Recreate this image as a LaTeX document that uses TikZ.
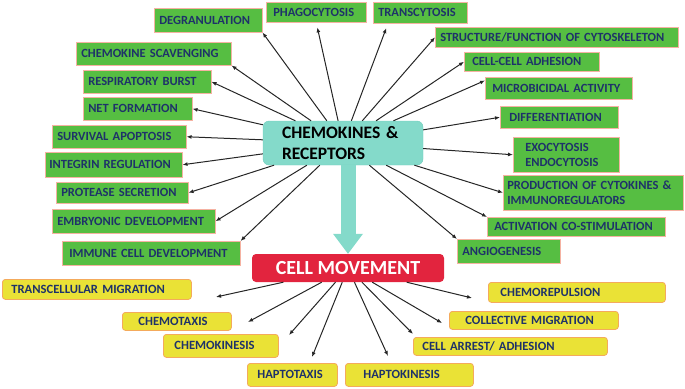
\documentclass[tikz,border=0pt]{standalone}
\usepackage{fontspec}
\setmainfont{Carlito}
\usetikzlibrary{arrows.meta, positioning}
\definecolor{gfill}{RGB}{86,190,66}
\definecolor{gline}{RGB}{245,178,162}
\definecolor{navy}{RGB}{30,50,105}
\definecolor{yfill}{RGB}{234,226,54}
\definecolor{yline}{RGB}{244,170,92}
\definecolor{ckfill}{RGB}{132,218,202}
\definecolor{ckline}{RGB}{112,204,188}
\definecolor{cmfill}{RGB}{226,36,62}
\tikzset{
  gbox/.style={rectangle,draw=gline,line width=0.5pt,fill=gfill,text=navy,font=\bfseries\fontsize{12.5}{14.5}\selectfont,align=left,anchor=north west,inner xsep=5pt,inner ysep=1pt,minimum height=22pt},
  ybox/.style={rectangle,rounded corners=3pt,draw=yline,line width=0.8pt,fill=yfill,text=navy,font=\bfseries\fontsize{12.6}{14.5}\selectfont,align=left,anchor=north west,inner xsep=9pt,inner ysep=1pt,minimum height=20pt},
  ckbox/.style={rectangle,rounded corners=6pt,draw=ckline,fill=ckfill,font=\bfseries\fontsize{17.5}{21}\selectfont,align=left,text width=122pt,inner xsep=19pt,minimum height=44pt},
  cmbox/.style={rectangle,rounded corners=4pt,fill=cmfill,text=white,font=\bfseries\fontsize{20}{22}\selectfont,minimum width=192pt,minimum height=28pt},
  line/.style={-{Latex[length=5pt,width=4pt]},line width=1pt,black!85},
  bigarrow/.style={-{Triangle[width=30pt,length=20pt,line width=0pt]},line width=15pt,ckfill}
}
\begin{document}
\begin{tikzpicture}[x=1pt,y=-1pt]
\useasboundingbox (0,0) rectangle (685,388);
% centre
\node[ckbox] (ck) at (343,143) {CHEMOKINES \&\\RECEPTORS};
\node[cmbox] (cm) at (348,268) {CELL MOVEMENT};
\draw[bigarrow] (ck.south -| cm.north) -- (cm.north);
% green boxes, left side
\node[gbox, text width=98pt, minimum height=24pt] (degr) at (154,8) {DEGRANULATION};
\node[gbox, text width=145pt, minimum height=23pt] (scav) at (76,42) {CHEMOKINE SCAVENGING};
\node[gbox, text width=118pt, minimum height=23pt] (resp) at (83,70) {RESPIRATORY BURST};
\node[gbox, text width=99pt, minimum height=23pt] (netf) at (83,97) {NET FORMATION};
\node[gbox, text width=124pt, minimum height=23pt] (surv) at (52,125) {SURVIVAL APOPTOSIS};
\node[gbox, text width=129pt, inner xsep=4pt, minimum height=25pt] (integ) at (45,152) {INTEGRIN REGULATION};
\node[gbox, text width=122pt, minimum height=21pt] (prot) at (56,182) {PROTEASE SECRETION};
\node[gbox, text width=153pt, minimum height=24pt] (embr) at (52,209) {EMBRYONIC DEVELOPMENT};
\node[gbox, text width=164pt, inner xsep=7pt, minimum height=24pt] (immune) at (62,241) {IMMUNE CELL DEVELOPMENT};
% green boxes, top and right side
\node[gbox, text width=86pt, inner xsep=7pt, minimum height=20pt] (phago) at (266,2) {PHAGOCYTOSIS};
\node[gbox, text width=84pt, minimum height=21pt] (transc) at (373,2) {TRANSCYTOSIS};
\node[gbox, text width=233pt, minimum height=20pt] (cytosk) at (435,27) {STRUCTURE/FUNCTION OF CYTOSKELETON};
\node[gbox, text width=119pt, inner xsep=8pt, minimum height=19pt] (cellad) at (464,52) {CELL-CELL ADHESION};
\node[gbox, text width=133pt, inner xsep=7pt, minimum height=22pt] (microb) at (485,77) {MICROBICIDAL ACTIVITY};
\node[gbox, text width=100pt, inner xsep=9pt, minimum height=22pt] (diffr) at (500,106) {DIFFERENTIATION};
\node[gbox, text width=82pt, inner xsep=12pt, minimum height=35pt] (exoendo) at (513,137) {EXOCYTOSIS\\ENDOCYTOSIS};
\node[gbox, text width=172pt, inner xsep=4pt, minimum height=35pt] (cytok) at (503,175) {PRODUCTION OF CYTOKINES \&\\IMMUNOREGULATORS};
\node[gbox, text width=164pt, inner xsep=7pt, minimum height=19pt] (costim) at (487,217) {ACTIVATION CO-STIMULATION};
\node[gbox, text width=93pt, minimum height=24pt] (angio) at (457,239) {ANGIOGENESIS};
% yellow boxes
\node[ybox, text width=171pt] (transm) at (2,279) {TRANSCELLULAR MIGRATION};
\node[ybox, text width=77pt, inner xsep=16pt, minimum height=18pt] (chemot) at (122,312) {CHEMOTAXIS};
\node[ybox, text width=93pt, inner xsep=11pt, minimum height=23pt] (chemok) at (163,334) {CHEMOKINESIS};
\node[ybox, text width=70pt, inner xsep=10pt, minimum height=23pt] (haptot) at (247,363) {HAPTOTAXIS};
\node[ybox, text width=92pt, inner xsep=18pt, minimum height=23pt] (haptok) at (345,363) {HAPTOKINESIS};
\node[ybox, text width=176pt, minimum height=18pt] (arrest) at (413,337) {CELL ARREST/ ADHESION};
\node[ybox, text width=137pt, inner xsep=16pt, minimum height=18pt] (collect) at (449,311) {COLLECTIVE MIGRATION};
\node[ybox, text width=153pt, inner xsep=12pt] (repul) at (488,282) {CHEMOREPULSION};
% free ends of the lower arrows
\coordinate (transm-in) at (216,297);
\coordinate (chemot-in) at (248,322);
\coordinate (chemok-in) at (289,335);
\coordinate (haptot-in) at (312,357);
\coordinate (haptok-in) at (388,356);
\coordinate (arrest-in) at (413,334);
\coordinate (collect-in) at (442,323);
\coordinate (repul-in) at (472,298);
% arrows
\draw[line] (ck) -- (degr.south east);
\draw[line, shorten >=5pt] (ck) -- (phago.south);
\draw[line, shorten >=5pt] (ck) -- ([xshift=15pt]transc.south west);
\draw[line] (ck) -- (cytosk.west);
\draw[line] (ck) -- (cellad.west);
\draw[line] (ck) -- (microb.174);
\draw[line] (ck) -- (diffr.west);
\draw[line] (ck) -- (exoendo.west);
\draw[line] (ck) -- (cytok.west);
\draw[line] (ck) -- (costim.north west);
\draw[line] (ck) -- (angio.north west);
\draw[line] (ck) -- (scav.south east);
\draw[line] (ck) -- (resp.east);
\draw[line] (ck) -- (netf.east);
\draw[line] (ck) -- (surv.east);
\draw[line] (ck) -- (integ.east);
\draw[line] (ck) -- (prot.east);
\draw[line] (ck) -- (embr.east);
\draw[line] (ck) -- (immune.north east);
\foreach \t in {transm,chemot,chemok,haptot,haptok,arrest,collect,repul}
  \draw[line] (cm) -- (\t-in);
\end{tikzpicture}
\end{document}
